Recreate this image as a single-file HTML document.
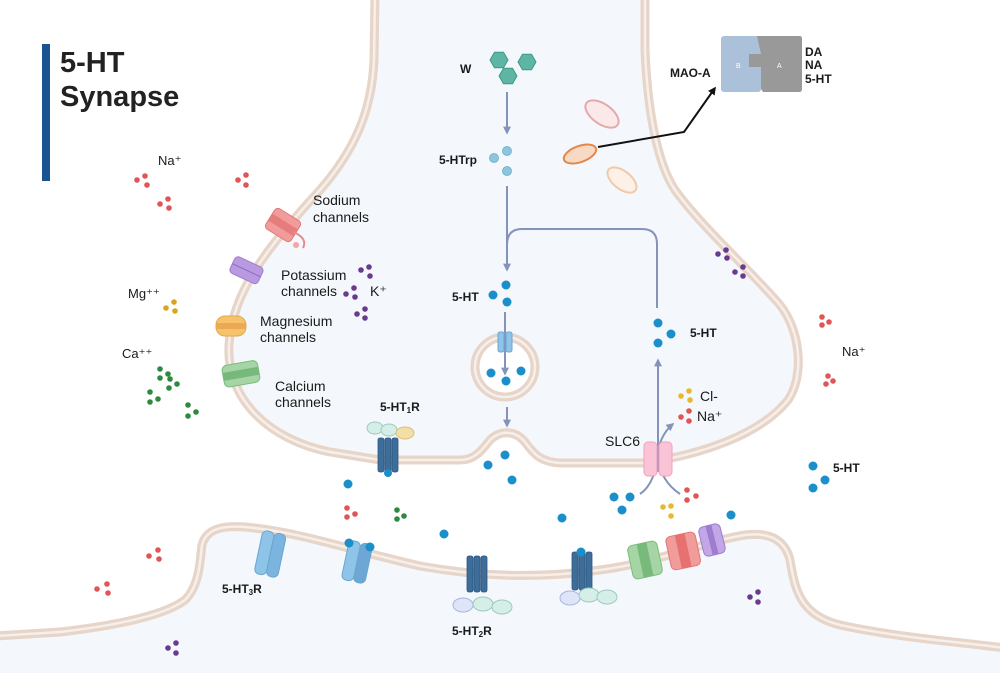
<!DOCTYPE html>
<html><head><meta charset="utf-8"><style>
html,body{margin:0;padding:0;background:#fff}
svg{display:block}
text{font-family:"Liberation Sans",Arial,sans-serif;fill:#1a1a1a}
.b{font-weight:bold;font-size:12px}
.n{font-size:14px}
</style></head><body>
<svg width="1000" height="682" viewBox="0 0 1000 682" xmlns="http://www.w3.org/2000/svg">
<defs>
<marker id="ah" viewBox="0 0 10 10" refX="8" refY="5" markerWidth="4" markerHeight="4" orient="auto"><path d="M0,0 L10,5 L0,10 Z" fill="#8593bb"/></marker>
<marker id="ak" viewBox="0 0 10 10" refX="8" refY="5" markerWidth="4" markerHeight="4" orient="auto"><path d="M0,0 L10,5 L0,10 Z" fill="#111"/></marker>
</defs>
<path d="M375,-5 L374,60 C372,110 355,150 320,190 C270,245 232,290 229,345 C226,400 270,440 330,452 L380,460 L460,460 C475,460 482,450 490,440 C500,430 515,430 525,442 C533,453 540,462 560,463 L643,463 C700,455 760,435 788,400 C805,375 800,330 780,305 C750,270 700,225 675,190 C655,160 647,100 645,50 L645,-5 Z" fill="#f4f8fc"/>
<path d="M-5,636 L60,632 C120,625 165,615 185,600 C200,585 200,560 202,545 C206,530 220,525 245,527 C300,532 350,550 420,566 C470,575 530,580 600,570 C660,562 710,540 745,535 C770,532 785,540 790,560 C795,590 800,615 840,625 C900,638 960,642 1005,648 L1005,673 L-5,673 Z" fill="#f4f8fc"/>
<g fill="none" stroke-linecap="round">
<path d="M375,-5 L374,60 C372,110 355,150 320,190 C270,245 232,290 229,345 C226,400 270,440 330,452 L380,460 L460,460 C475,460 482,450 490,440 C500,430 515,430 525,442 C533,453 540,462 560,463 L643,463 C700,455 760,435 788,400 C805,375 800,330 780,305 C750,270 700,225 675,190 C655,160 647,100 645,50 L645,-5" stroke="#e6d5c8" stroke-width="9"/>
<path d="M375,-5 L374,60 C372,110 355,150 320,190 C270,245 232,290 229,345 C226,400 270,440 330,452 L380,460 L460,460 C475,460 482,450 490,440 C500,430 515,430 525,442 C533,453 540,462 560,463 L643,463 C700,455 760,435 788,400 C805,375 800,330 780,305 C750,270 700,225 675,190 C655,160 647,100 645,50 L645,-5" stroke="#f7efe9" stroke-width="2.5"/>
<path d="M-5,636 L60,632 C120,625 165,615 185,600 C200,585 200,560 202,545 C206,530 220,525 245,527 C300,532 350,550 420,566 C470,575 530,580 600,570 C660,562 710,540 745,535 C770,532 785,540 790,560 C795,590 800,615 840,625 C900,638 960,642 1005,648" stroke="#e6d5c8" stroke-width="9"/>
<path d="M-5,636 L60,632 C120,625 165,615 185,600 C200,585 200,560 202,545 C206,530 220,525 245,527 C300,532 350,550 420,566 C470,575 530,580 600,570 C660,562 710,540 745,535 C770,532 785,540 790,560 C795,590 800,615 840,625 C900,638 960,642 1005,648" stroke="#f7efe9" stroke-width="2.5"/>
<circle cx="505" cy="367" r="30" stroke="#e6d5c8" stroke-width="9" fill="#fff"/>
<circle cx="505" cy="367" r="30" stroke="#f7efe9" stroke-width="2.5"/>
</g>
<rect x="42" y="44" width="8" height="137" fill="#1a5490"/>
<text x="60" y="72" style="font-size:29px;font-weight:bold;fill:#222">5-HT</text>
<text x="60" y="106" style="font-size:29px;font-weight:bold;fill:#222">Synapse</text>
<g fill="#5fb5a3" stroke="#3f9a88" stroke-width="1">
<polygon points="508,60 503.5,67.8 494.5,67.8 490,60 494.5,52.2 503.5,52.2"/>
<polygon points="536,62 531.5,69.8 522.5,69.8 518,62 522.5,54.2 531.5,54.2"/>
<polygon points="517,76 512.5,83.8 503.5,83.8 499,76 503.5,68.2 512.5,68.2"/>
</g>
<text x="460" y="73" class="b">W</text>
<g stroke="#8593bb" stroke-width="2" fill="none">
<line x1="507" y1="92" x2="507" y2="133" marker-end="url(#ah)"/>
<path d="M507,186 L507,270" marker-end="url(#ah)"/>
<path d="M507,245 Q507,229 522,229 L642,229 Q657,229 657,244 L657,308"/>
<line x1="505" y1="312" x2="505" y2="374" marker-end="url(#ah)"/>
<line x1="507" y1="407" x2="507" y2="426" marker-end="url(#ah)"/>
<line x1="658" y1="472" x2="658" y2="360" marker-end="url(#ah)"/>
<path d="M640,494 C652,486 656,470 657,458 C658,445 663,432 673,424" marker-end="url(#ah)"/>
<path d="M680,494 C668,486 660,474 658,458"/>
</g>
<text x="439" y="164" class="b">5-HTrp</text>
<g fill="#8ec4dc" stroke="#6aaecb" stroke-width="0.8"><circle cx="494" cy="158" r="4.5"/><circle cx="507" cy="151" r="4.5"/><circle cx="507" cy="171" r="4.5"/></g>
<text x="452" y="301" class="b">5-HT</text>
<rect x="498" y="332" width="6" height="20" rx="2" fill="#8ec4e8" stroke="#6aa6d0"/>
<rect x="506" y="332" width="6" height="20" rx="2" fill="#8ec4e8" stroke="#6aa6d0"/>
<g fill="#1a8fc9">
<circle cx="493" cy="295" r="4.5"/><circle cx="506" cy="285" r="4.5"/><circle cx="507" cy="302" r="4.5"/>
<circle cx="491" cy="373" r="4.5"/><circle cx="506" cy="381" r="4.5"/><circle cx="521" cy="371" r="4.5"/>
<circle cx="658" cy="323" r="4.5"/><circle cx="671" cy="334" r="4.5"/><circle cx="658" cy="343" r="4.5"/>
<circle cx="348" cy="484" r="4.5"/><circle cx="488" cy="465" r="4.5"/><circle cx="505" cy="455" r="4.5"/><circle cx="512" cy="480" r="4.5"/>
<circle cx="444" cy="534" r="4.5"/><circle cx="562" cy="518" r="4.5"/><circle cx="731" cy="515" r="4.5"/>
<circle cx="614" cy="497" r="4.5"/><circle cx="630" cy="497" r="4.5"/><circle cx="622" cy="510" r="4.5"/>
<circle cx="813" cy="466" r="4.5"/><circle cx="825" cy="480" r="4.5"/><circle cx="813" cy="488" r="4.5"/>
</g>
<text x="690" y="337" class="b">5-HT</text>
<text x="833" y="472" class="b">5-HT</text>
<g fill="none" stroke-width="2">
<ellipse cx="602" cy="114" rx="19" ry="10" transform="rotate(35 602 114)" stroke="#e6a9ab" fill="#fbe9ea"/>
<ellipse cx="580" cy="154" rx="17" ry="8" transform="rotate(-20 580 154)" stroke="#e3884a" fill="#f8d9c3"/>
<ellipse cx="622" cy="180" rx="17" ry="9" transform="rotate(38 622 180)" stroke="#f0c9aa" fill="#fdf1e7"/>
</g>
<polyline points="598,147 684,132 715,88" fill="none" stroke="#111" stroke-width="2" marker-end="url(#ak)"/>
<rect x="721" y="36" width="40" height="56" rx="3" fill="#abc1da"/>
<path d="M757,36 L800,36 Q802,36 802,39 L802,89 Q802,92 799,92 L763,92 L761,89 L761,67 L749,67 L749,54 L761,54 Z" fill="#999"/>
<text x="736" y="68" style="font-size:7px;fill:#fff">B</text>
<text x="777" y="68" style="font-size:7px;fill:#fff">A</text>
<text x="670" y="77" class="b">MAO-A</text>
<text x="805" y="56" class="b">DA</text>
<text x="805" y="69" class="b">NA</text>
<text x="805" y="83" class="b">5-HT</text>
<g transform="rotate(32 283 225)"><rect x="268" y="213" width="30" height="24" rx="4" fill="#f29b9b" stroke="#e07878"/><rect x="268" y="221" width="30" height="8" fill="#e77c7c"/></g>
<path d="M293,232 Q308,238 303,248" fill="none" stroke="#e88a8a" stroke-width="2"/><circle cx="296" cy="245" r="3" fill="#f4a5a5"/>
<g transform="rotate(25 246 270)"><rect x="231" y="261" width="31" height="18" rx="4" fill="#b99ae0" stroke="#9e7cd0"/><line x1="231" y1="270" x2="262" y2="270" stroke="#8e6bc4"/></g>
<g><rect x="216" y="316" width="30" height="20" rx="9" fill="#f7c36a" stroke="#e2a84a"/><rect x="216" y="323" width="30" height="6" fill="#eba855"/></g>
<g transform="rotate(-10 240 374)"><rect x="223" y="363" width="36" height="22" rx="5" fill="#a5d4a5" stroke="#7cbc7c"/><rect x="223" y="370" width="36" height="8" fill="#76b97a"/></g>
<text x="313" y="205" class="n">Sodium</text><text x="313" y="222" class="n">channels</text>
<text x="281" y="280" class="n">Potassium</text><text x="281" y="296" class="n">channels</text>
<text x="260" y="326" class="n">Magnesium</text><text x="260" y="342" class="n">channels</text>
<text x="275" y="391" class="n">Calcium</text><text x="275" y="407" class="n">channels</text>
<text x="370" y="296" class="n">K⁺</text>
<text x="158" y="165" class="n" style="font-size:13px">Na⁺</text>
<text x="128" y="298" class="n" style="font-size:13px">Mg⁺⁺</text>
<text x="122" y="358" class="n" style="font-size:13px">Ca⁺⁺</text>
<text x="842" y="356" class="n" style="font-size:13px">Na⁺</text>
<text x="700" y="401" class="n">Cl-</text>
<text x="697" y="421" class="n">Na⁺</text>
<text x="605" y="446" class="n">SLC6</text>
<g fill="#e05555">
<circle cx="137" cy="180" r="2.8"/><circle cx="145" cy="176" r="2.8"/><circle cx="147" cy="185" r="2.8"/>
<circle cx="160" cy="204" r="2.8"/><circle cx="168" cy="199" r="2.8"/><circle cx="169" cy="208" r="2.8"/>
<circle cx="238" cy="180" r="2.8"/><circle cx="246" cy="175" r="2.8"/><circle cx="246" cy="185" r="2.8"/>
<circle cx="822" cy="317" r="2.8"/><circle cx="829" cy="322" r="2.8"/><circle cx="822" cy="325" r="2.8"/>
<circle cx="828" cy="376" r="2.8"/><circle cx="833" cy="381" r="2.8"/><circle cx="826" cy="384" r="2.8"/>
<circle cx="681" cy="417" r="2.8"/><circle cx="689" cy="411" r="2.8"/><circle cx="689" cy="421" r="2.8"/>
<circle cx="687" cy="490" r="2.8"/><circle cx="696" cy="496" r="2.8"/><circle cx="687" cy="500" r="2.8"/>
<circle cx="347" cy="508" r="2.8"/><circle cx="355" cy="514" r="2.8"/><circle cx="347" cy="517" r="2.8"/>
<circle cx="149" cy="556" r="2.8"/><circle cx="158" cy="550" r="2.8"/><circle cx="159" cy="559" r="2.8"/>
<circle cx="97" cy="589" r="2.8"/><circle cx="107" cy="584" r="2.8"/><circle cx="108" cy="593" r="2.8"/>
</g>
<g fill="#d9a520"><circle cx="166" cy="308" r="2.8"/><circle cx="174" cy="302" r="2.8"/><circle cx="175" cy="311" r="2.8"/></g>
<g fill="#e8b830">
<circle cx="681" cy="396" r="2.8"/><circle cx="689" cy="391" r="2.8"/><circle cx="690" cy="400" r="2.8"/>
<circle cx="663" cy="507" r="2.8"/><circle cx="671" cy="506" r="2.8"/><circle cx="671" cy="516" r="2.8"/>
</g>
<g fill="#2e8a3e">
<circle cx="160" cy="369" r="2.8"/><circle cx="160" cy="378" r="2.8"/><circle cx="168" cy="374" r="2.8"/><circle cx="170" cy="379" r="2.8"/><circle cx="177" cy="384" r="2.8"/><circle cx="169" cy="388" r="2.8"/>
<circle cx="150" cy="392" r="2.8"/><circle cx="150" cy="402" r="2.8"/><circle cx="158" cy="399" r="2.8"/>
<circle cx="188" cy="405" r="2.8"/><circle cx="188" cy="416" r="2.8"/><circle cx="196" cy="412" r="2.8"/>
<circle cx="397" cy="510" r="2.8"/><circle cx="397" cy="519" r="2.8"/><circle cx="404" cy="516" r="2.8"/>
</g>
<g fill="#6a3a8e">
<circle cx="361" cy="270" r="2.8"/><circle cx="369" cy="267" r="2.8"/><circle cx="370" cy="276" r="2.8"/>
<circle cx="346" cy="294" r="2.8"/><circle cx="354" cy="288" r="2.8"/><circle cx="355" cy="297" r="2.8"/>
<circle cx="357" cy="314" r="2.8"/><circle cx="365" cy="309" r="2.8"/><circle cx="365" cy="318" r="2.8"/>
<circle cx="718" cy="254" r="2.8"/><circle cx="726" cy="250" r="2.8"/><circle cx="727" cy="258" r="2.8"/>
<circle cx="735" cy="272" r="2.8"/><circle cx="743" cy="267" r="2.8"/><circle cx="743" cy="276" r="2.8"/>
<circle cx="750" cy="597" r="2.8"/><circle cx="758" cy="592" r="2.8"/><circle cx="758" cy="602" r="2.8"/>
<circle cx="168" cy="648" r="2.8"/><circle cx="176" cy="643" r="2.8"/><circle cx="176" cy="653" r="2.8"/>
</g>
<rect x="644" y="442" width="13" height="34" rx="4" fill="#fbc4d6" stroke="#f0a0bc"/>
<rect x="659" y="442" width="13" height="34" rx="4" fill="#fbc4d6" stroke="#f0a0bc"/>
<g fill="#3d6e99" stroke="#2c5680" stroke-width="0.8">
<rect x="378" y="438" width="6" height="34" rx="2"/><rect x="385" y="438" width="6" height="34" rx="2"/><rect x="392" y="438" width="6" height="34" rx="2"/>
</g>
<ellipse cx="375" cy="428" rx="8" ry="6" fill="#d6eee8" stroke="#9cc9bc"/>
<ellipse cx="389" cy="430" rx="8" ry="6" fill="#d6eee8" stroke="#9cc9bc"/>
<ellipse cx="405" cy="433" rx="9" ry="6" fill="#f2dfa6" stroke="#d8bf74"/>
<circle cx="388" cy="473" r="4" fill="#1a8fc9"/>
<text x="380" y="411" class="b">5-HT<tspan font-size="8" dy="2">1</tspan><tspan dy="-2">R</tspan></text>
<g transform="rotate(12 270 555)"><rect x="258" y="532" width="12" height="44" rx="5" fill="#8ec4e8" stroke="#6aa6d0"/><rect x="270" y="532" width="12" height="44" rx="5" fill="#7bb4df" stroke="#6aa6d0"/></g>
<g transform="rotate(12 357 562)"><rect x="345" y="542" width="12" height="40" rx="5" fill="#8ec4e8" stroke="#6aa6d0"/><rect x="357" y="542" width="12" height="40" rx="5" fill="#6ea6d6" stroke="#6aa6d0"/></g>
<circle cx="349" cy="543" r="4.5" fill="#1a8fc9"/><circle cx="370" cy="547" r="4.5" fill="#1a8fc9"/>
<text x="222" y="593" class="b">5-HT<tspan font-size="8" dy="2">3</tspan><tspan dy="-2">R</tspan></text>
<g fill="#3d6e99" stroke="#2c5680" stroke-width="0.8">
<rect x="467" y="556" width="6" height="36" rx="2"/><rect x="474" y="556" width="6" height="36" rx="2"/><rect x="481" y="556" width="6" height="36" rx="2"/>
<rect x="572" y="552" width="6" height="38" rx="2"/><rect x="579" y="552" width="6" height="38" rx="2"/><rect x="586" y="552" width="6" height="38" rx="2"/>
</g>
<ellipse cx="463" cy="605" rx="10" ry="7" fill="#dfe5f8" stroke="#a9b4de"/>
<ellipse cx="483" cy="604" rx="10" ry="7" fill="#d6eee8" stroke="#9cc9bc"/>
<ellipse cx="502" cy="607" rx="10" ry="7" fill="#d6eee8" stroke="#9cc9bc"/>
<ellipse cx="570" cy="598" rx="10" ry="7" fill="#dfe5f8" stroke="#a9b4de"/>
<ellipse cx="589" cy="595" rx="10" ry="7" fill="#d6eee8" stroke="#9cc9bc"/>
<ellipse cx="607" cy="597" rx="10" ry="7" fill="#d6eee8" stroke="#9cc9bc"/>
<circle cx="581" cy="552" r="4.5" fill="#1a8fc9"/>
<text x="452" y="635" class="b">5-HT<tspan font-size="8" dy="2">2</tspan><tspan dy="-2">R</tspan></text>
<g transform="rotate(-12 645 560)"><rect x="630" y="543" width="30" height="34" rx="5" fill="#a5d4a5" stroke="#7cbc7c"/><rect x="640" y="543" width="10" height="34" fill="#78b97c"/></g>
<g transform="rotate(-12 683 550)"><rect x="668" y="534" width="30" height="34" rx="5" fill="#f29b9b" stroke="#e07878"/><rect x="678" y="534" width="10" height="34" fill="#e77171"/></g>
<g transform="rotate(-14 712 540)"><rect x="701" y="525" width="22" height="30" rx="5" fill="#c3a6e6" stroke="#9e7cd0"/><rect x="709" y="525" width="6" height="30" fill="#9e7cd0"/></g>
</svg>
</body></html>
